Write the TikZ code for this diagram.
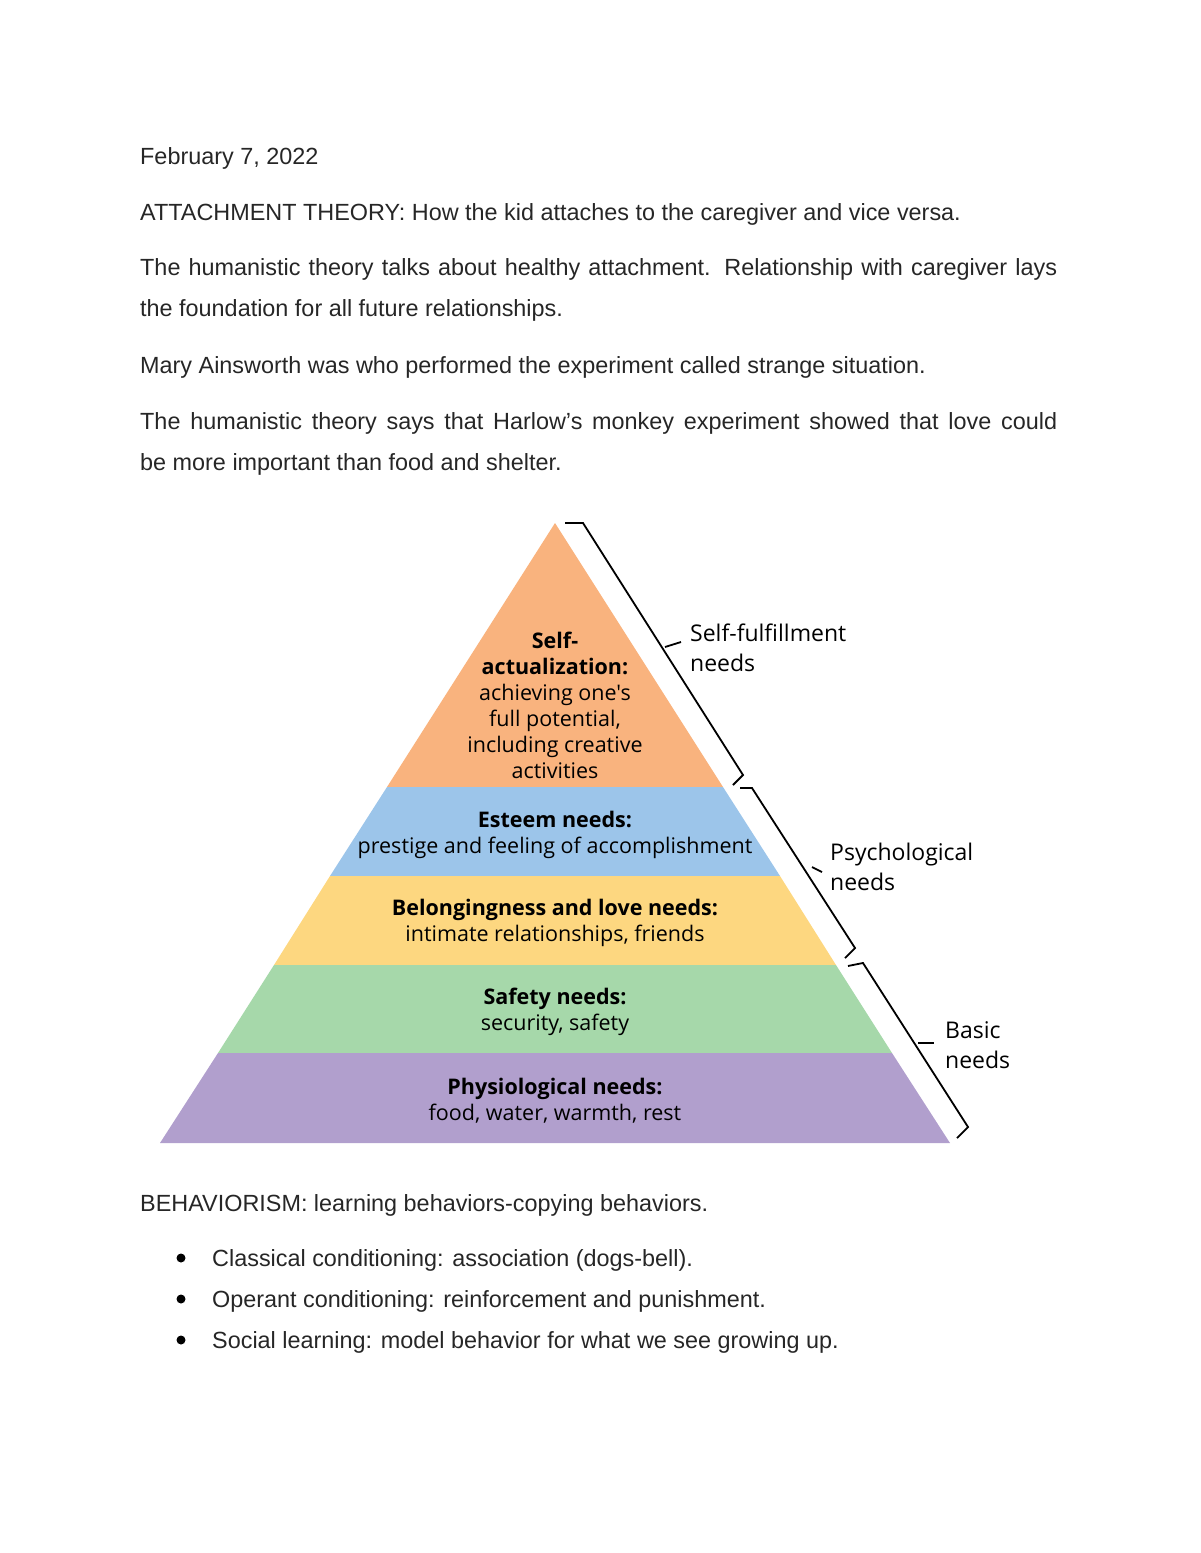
\documentclass[tikz,border=0pt]{standalone}
\usepackage{fontspec}
\setmainfont{Liberation Sans}
\newfontfamily\pyr{Open Sans}
\definecolor{cA}{HTML}{F9B37E}
\definecolor{cB}{HTML}{9CC5EA}
\definecolor{cC}{HTML}{FDD780}
\definecolor{cD}{HTML}{A6D8AA}
\definecolor{cE}{HTML}{B19FCD}
\tikzset{body/.style={anchor=base west,inner sep=0pt,font=\fontsize{23.4}{26}\selectfont,text=black!85},
 ptxt/.style={align=center,inner sep=0pt,font=\pyr\fontsize{21.5}{26}\selectfont},
 lab/.style={anchor=west,align=left,inner sep=0pt,font=\pyr\fontsize{23}{30}\selectfont},
 br/.style={line width=1.8pt}}
\begin{document}
\begin{tikzpicture}[x=1pt,y=-1pt]
\useasboundingbox (0,0) rectangle (1200,1553);
\node[body] (d) at (140,164) {February 7, 2022};
\node[body] (t1) at (140,220) {ATTACHMENT THEORY: How the kid attaches to the caregiver and vice versa.};
\node[body] (t2) at (140,275) {\makebox[917pt][s]{The humanistic theory talks about healthy attachment. Relationship with caregiver lays}};
\node[body] (t2b) at (140,316) {the foundation for all future relationships.};
\node[body] (t3) at (140,373) {Mary Ainsworth was who performed the experiment called strange situation.};
\node[body] (t4) at (140,429) {\makebox[917pt][s]{The humanistic theory says that Harlow's monkey experiment showed that love could}};
\node[body] (t5) at (140,470) {be more important than food and shelter.};
% pyramid
\fill[cA] (555,523) -- (723,787) -- (387,787) -- cycle;
\fill[cB] (387,787) -- (723,787) -- (780,876) -- (330,876) -- cycle;
\fill[cC] (330,876) -- (780,876) -- (836,965) -- (274,965) -- cycle;
\fill[cD] (274,965) -- (836,965) -- (892,1053) -- (218,1053) -- cycle;
\fill[cE] (218,1053) -- (892,1053) -- (950,1143) -- (160,1143) -- cycle;
\node[ptxt] (p1) at (555,705) {\textbf{Self-}\\\textbf{actualization:}\\achieving one's\\full potential,\\including creative\\activities};
\node[ptxt] (p2) at (555,835) {\textbf{Esteem needs:}\\prestige and feeling of accomplishment};
\node[ptxt] (p3) at (555,923) {\textbf{Belongingness and love needs:}\\intimate relationships, friends};
\node[ptxt] (p4) at (555,1012) {\textbf{Safety needs:}\\security, safety};
\node[ptxt] (p5) at (555,1101) {\textbf{Physiological needs:}\\food, water, warmth, rest};
% brackets
\draw[br] (565,523) -- (583,523) -- (743,775) -- (733,785);
\draw[br] (665,647) -- (681,642);
\draw[br] (740,788) -- (752,788) -- (855,948) -- (845,958);
\draw[br] (812,867) -- (822,872);
\draw[br] (848,966) -- (863,963) -- (968,1127) -- (957,1138);
\draw[br] (918,1043) -- (934,1043);
\node[lab] (l1) at (690,648) {Self-fulfillment\\needs};
\node[lab] (l2) at (830,867) {Psychological\\needs};
\node[lab] (l3) at (945,1045) {Basic\\needs};
\node[body] (b0) at (140,1211) {BEHAVIORISM: learning behaviors-copying behaviors.};
\foreach \y/\tx [count=\i] in {1266/{Classical conditioning: association (dogs-bell).},1307/{Operant conditioning: reinforcement and punishment.},1348/{Social learning: model behavior for what we see growing up.}}{
 \fill (181,\y-8) circle (4.5pt);
 \node[body] (bl\i) at (212,\y) {\tx};}
\end{tikzpicture}
\end{document}
